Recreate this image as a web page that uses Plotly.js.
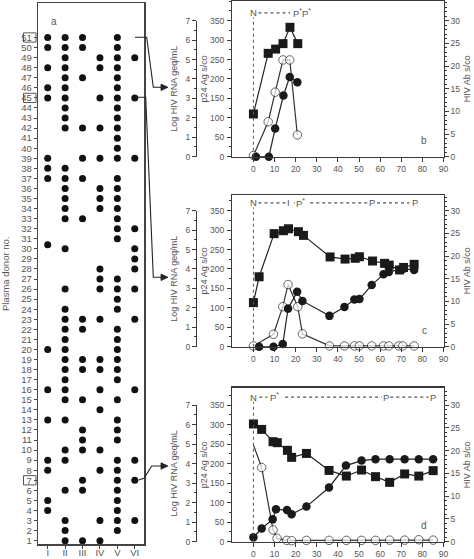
<!DOCTYPE html>
<html><head><meta charset="utf-8">
<script src="https://cdn.plot.ly/plotly-3.0.1.min.js"></script>
<style>html,body{margin:0;padding:0;background:#fff}#chart{width:474px;height:559px}</style>
</head><body><div id="chart"></div>
<script>
// ---------- Panel a: donors positive per plasma panel column ----------
const columns = ['I','II','III','IV','V','VI'];
const donorsI   = [51,50,48,46,45,39,38,37,30.4,20,16,13,9,8,5,4];
const donorsII  = [51,50,49,48,47,46,45,44,43,42,38,37,36,35,34,33,30,26,24,23,22,21,20,19,18,17,16,15,13,10,9,6,3,2,1];
const donorsIII = [51,50,47,42,39,37,33,23,22,19,18,15,12,11,10,7,6,1];
const donorsIV  = [49,48,45,42,39,36,35,34,28,27,26,23,19,18,16,14,10,8,3,1];
const donorsV   = [51,50,49,48,47,46,45,44,43,42,41,40,39,37,36,35,34,33,32,31,27,26,25,24,22,21,20,19,18,17,15,13,12,11,9,8,7,6,5,4,3,2];
const donorsVI  = [49,45,39,32,30,29,28,26,23,16,9,7,3];
const donorNumbers = Array.from({length:51},(_,i)=>i+1);
const highlightedDonors = [51,45,7];

// ---------- Panel b (donor 51) ----------
const bRnaDay = [0,7,10.5,14,17.3,21];
const bRna    = [2.2,5.32,5.54,5.82,6.66,5.82];
const bP24Day = [0,7,10.3,14,17.2,20.8];
const bP24    = [3,90,166,249,249,56];
const bAbDay  = [1.2,7.3,10.3,14.2,17.2,20.8];
const bAb     = [0,0,6.2,13.5,17.6,16.4];

// ---------- Panel c (donor 45) ----------
const cRnaDay = [0,2.7,9.8,14.2,16.6,21.3,23.7,36.3,43.4,48.2,50.2,56.4,62.1,64.3,69.2,71.1,76.1];
const cRna    = [2.27,3.6,5.82,5.97,6.07,5.92,5.73,4.62,4.51,4.55,4.63,4.41,4.29,4.2,3.95,4.08,4.24];
const cP24Day = [0,9.5,13.9,16.4,21,23.2,36,43.1,47.8,50.2,56,61.6,64.1,68.8,70.7,76.1];
const cP24    = [2,32,103,160,103,33,2,2,2,2,2,2,2,2,2,2];
const cAbDay  = [2.7,9.5,13.9,16.4,20.7,23.2,36,43.1,47.8,50.2,56,61.6,64.1,69.2,71.1,76.1];
const cAb     = [0,0,0.6,8.4,12.1,10.1,6.8,8.75,10.4,10.5,13.6,16.0,16.5,17.0,17.2,16.9];

// ---------- Panel d (donor 7) ----------
const dRnaDay = [0,3.9,9.3,11.3,16.1,18.1,25.1,35.8,44,51.2,57.8,64.5,71.6,78.3,85.1];
const dRna    = [6.03,5.75,5.12,5.07,4.68,4.32,4.52,3.65,3.36,3.67,3.33,3.04,3.47,3.36,3.64];
const dP24Day = [0,3.9,9.3,11.2,15.8,18.1,25.1,35.8,44,51.2,57.8,64.5,71.6,78.3,85.1];
const dP24    = [248,190,30,8.5,3.4,2.6,3.4,3.4,3.4,3.4,3.4,4,4,5,4];
const dAbDay  = [0,3.9,9.1,10.7,15.9,18.1,25.1,35.8,43.8,51.2,57.8,64.5,71.6,78.3,85.1];
const dAb     = [0.95,2.9,4.9,7.1,6.95,6.0,7.7,11.9,16.7,17.8,18.1,18.1,18.1,18.1,18.1];

const dayTicks = [0,10,20,30,40,50,60,70,80,90];

// ---------- layout helpers ----------
const W = 474, H = 559;
const px = v => v / W;
const py = v => 1 - v / H;
const FONT = 'Liberation Sans, Arial, sans-serif';
const TXT = '#555';
const LINE = '#3a3a3a';

const traces = [];
const colData = [donorsI, donorsII, donorsIII, donorsIV, donorsV, donorsVI];
colData.forEach((arr, k) => {
  traces.push({
    type:'scatter', mode:'markers', xaxis:'x', yaxis:'y',
    x: arr.map(() => columns[k]), y: arr,
    marker:{size:7, color:'#111'}, showlegend:false, hoverinfo:'skip', cliponaxis:false
  });
});

const panels = [
  {top:1,     zero:156.7, p350:20.7,
   rna:[bRnaDay,bRna], p24:[bP24Day,bP24], ab:[bAbDay,bAb], letter:'b',
   labels:[['N',0],['P<sup>*</sup>P<sup>*</sup>',23]], dots:[[2.4,17.4]], hideFirstP24:false},
  {top:195,   zero:346.7, p350:210.7,
   rna:[cRnaDay,cRna], p24:[cP24Day,cP24], ab:[cAbDay,cAb], letter:'c',
   labels:[['N',0],['I',16.8],['P<sup>*</sup>',22.4],['P',56.1],['P',76.3]],
   dots:[[2.4,15.5],[19.2,19.6],[26.9,54.5],[58.5,73.8]], hideFirstP24:false},
  {top:387.7, zero:541.7, p350:405,
   rna:[dRnaDay,dRna], p24:[dP24Day,dP24], ab:[dAbDay,dAb], letter:'d',
   labels:[['N',0],['P<sup>*</sup>',9.9],['P',62.7],['P',85]],
   dots:[[2.8,6.6],[15,60.8],[64.8,82.9]], hideFirstP24:true}
];

const layout = {
  width:W, height:H, margin:{l:0,r:0,t:0,b:0},
  paper_bgcolor:'#fff', plot_bgcolor:'rgba(0,0,0,0)',
  font:{family:FONT, color:TXT, size:9},
  showlegend:false,
  xaxis:{domain:[px(38.3),px(144)], type:'category', categoryarray:columns, range:[-0.54,5.53],
    showline:true, mirror:true, linecolor:'#444', linewidth:1.6, ticks:'outside', ticklen:3,
    tickcolor:'#444', tickfont:{size:9.5,color:TXT}, ticklabelstandoff:-4,
    showgrid:false, zeroline:false, anchor:'y', fixedrange:true},
  yaxis:{domain:[py(544.3),py(3.3)], range:[0.64,54.4], tickvals:donorNumbers,
    ticktext:donorNumbers.map(String), ticks:'outside', ticklen:3, tickcolor:'#444',
    tickfont:{size:9.5,color:TXT}, showline:true, mirror:true, linecolor:'#444', linewidth:1.6,
    showgrid:false, zeroline:false, anchor:'x',
    title:{text:'Plasma donor no.', font:{size:9.5,color:TXT}, standoff:12}},
  shapes:[], annotations:[]
};

// boxes around highlighted donor labels
highlightedDonors.forEach(d => {
  layout.shapes.push({type:'rect', xref:'paper', yref:'y', x0:px(23.5), x1:px(36), y0:d-0.46, y1:d+0.46,
    line:{color:'#555', width:1}, fillcolor:'rgba(0,0,0,0)'});
});
layout.annotations.push({xref:'paper', yref:'paper', x:px(49), y:py(14), text:'a', showarrow:false,
  font:{size:10,color:TXT}});

// connector arrows from panel a to panels b,c,d
const arrowPaths = [
  [[135,37.3],[146.7,37.3],[153.3,87.3],[162,87.3]],
  [[135,97.3],[145.7,97.3],[153.3,277.3],[162,277.3]],
  [[138.7,480],[144,478.3],[151.7,466],[162,466]]
];
const toPath = pts => pts.map((p,i) => (i?'L':'M') + px(p[0]).toFixed(5) + ',' + py(p[1]).toFixed(5)).join(' ');
arrowPaths.forEach(pts => {
  layout.shapes.push({type:'path', xref:'paper', yref:'paper', path:toPath(pts), line:{color:'#222', width:1.1}});
  const e = pts[pts.length-1];
  layout.shapes.push({type:'path', xref:'paper', yref:'paper',
    path:toPath([[e[0]-1,e[1]-3.2],[e[0]+6,e[1]],[e[0]-1,e[1]+3.2]]) + ' Z',
    line:{color:'#222', width:0.8}, fillcolor:'#222'});
});

panels.forEach((p, i) => {
  const xi = 2 + i, yP = 2 + 3*i, yA = 3 + 3*i, yR = 4 + 3*i;
  const yRange = 350 * (p.zero - p.top) / (p.zero - p.p350);
  const xk = 'xaxis' + xi, xr = 'x' + xi;
  layout[xk] = {domain:[px(232.3),px(443.5)], range:[-10,90], tickvals:dayTicks, ticks:'outside', ticklen:4,
    tickcolor:LINE, tickfont:{size:8.5,color:TXT}, showline:true, mirror:true, linecolor:LINE, linewidth:1.3,
    showgrid:false, zeroline:false, anchor:'y'+yP, fixedrange:true};
  layout['yaxis'+yP] = {domain:[py(p.zero),py(p.top)], range:[0,yRange], tickvals:[0,50,100,150,200,250,300,350],
    ticks:'outside', ticklen:4, tickcolor:LINE, tickfont:{size:8.5,color:TXT}, showline:true, linecolor:LINE,
    linewidth:1.3, showgrid:false, zeroline:false, anchor:xr, ticklabelstandoff:1,
    minor:{dtick:25, tick0:0, ticks:'outside', ticklen:2, tickcolor:LINE},
    title:{text:'p24 Ag s/co', font:{size:9,color:TXT}, standoff:1}};
  layout['yaxis'+yA] = {overlaying:'y'+yP, side:'right', anchor:xr, range:[0,yRange*30/350],
    tickvals:[0,5,10,15,20,25,30], ticks:'outside', ticklen:4, tickcolor:LINE, tickfont:{size:8.5,color:TXT},
    showline:true, linecolor:LINE, linewidth:1.3, showgrid:false, zeroline:false,
    minor:{dtick:1, tick0:0, ticks:'outside', ticklen:2, tickcolor:LINE},
    title:{text:'HIV Ab s/co', font:{size:9,color:TXT}, standoff:4}};
  layout['yaxis'+yR] = {domain:[py(p.zero),py(p.p350)], range:[0,7], anchor:'free', position:px(196), side:'left',
    dtick:1, ticks:'outside', ticklen:4, tickcolor:LINE, tickfont:{size:8.5,color:TXT}, showline:true,
    linecolor:LINE, linewidth:1.3, showgrid:false, zeroline:false,
    minor:{dtick:0.5, ticks:'outside', ticklen:2, tickcolor:LINE},
    title:{text:'Log HIV RNA geq/mL', font:{size:9,color:TXT}, standoff:5}};

  traces.push({type:'scatter', mode:'lines+markers', xaxis:xr, yaxis:'y'+yR, x:p.rna[0], y:p.rna[1],
    line:{color:'#222', width:1.2}, marker:{symbol:'square', size:9, color:'#1a1a1a'}, cliponaxis:false,
    showlegend:false, hoverinfo:'skip'});
  traces.push({type:'scatter', mode:'lines+markers', xaxis:xr, yaxis:'y'+yA, x:p.ab[0], y:p.ab[1],
    line:{color:'#222', width:1.2}, marker:{symbol:'circle', size:8.5, color:'#1a1a1a'}, cliponaxis:false,
    showlegend:false, hoverinfo:'skip'});
  traces.push({type:'scatter', mode:'lines+markers', xaxis:xr, yaxis:'y'+yP, x:p.p24[0], y:p.p24[1],
    line:{color:'#333', width:1.2},
    marker:{symbol:'circle', size:p.p24[1].map((v,k)=> (p.hideFirstP24 && k===0) ? 0 : 8.5),
      color:'#fff', line:{color:'#222', width:1}}, cliponaxis:false, showlegend:false, hoverinfo:'skip'});

  // vertical dotted line at day 0
  layout.shapes.push({type:'line', xref:xr, yref:'y'+yP, x0:0, x1:0, y0:0, y1:358,
    line:{color:'#555', width:1, dash:'dot'}});
  // timeline markers
  p.dots.forEach(d => layout.shapes.push({type:'line', xref:xr, yref:'y'+yP, x0:d[0], x1:d[1], y0:370, y1:370,
    line:{color:'#555', width:1.3, dash:'dot'}}));
  p.labels.forEach(l => layout.annotations.push({xref:xr, yref:'y'+yP, x:l[1], y:370, text:l[0],
    showarrow:false, font:{size:9.5,color:TXT}}));
  layout.annotations.push({xref:xr, yref:'y'+yP, x:81, y:41, text:p.letter, showarrow:false,
    font:{size:10,color:TXT}});
});

Plotly.newPlot('chart', traces, layout, {staticPlot:true, displayModeBar:false});
</script>
</body></html>
